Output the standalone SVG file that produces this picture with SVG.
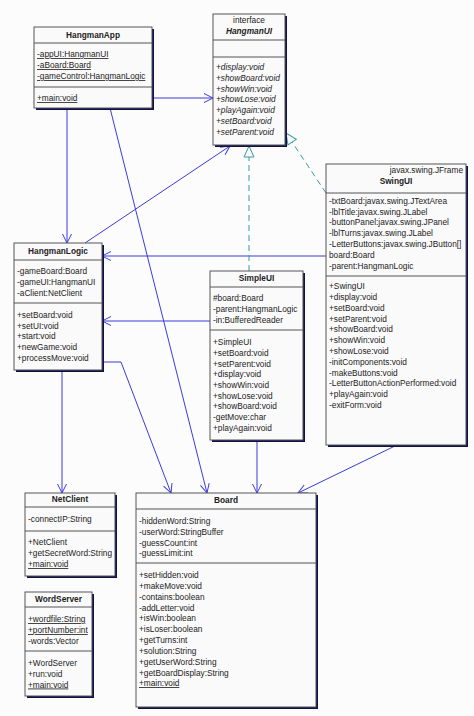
<svg xmlns="http://www.w3.org/2000/svg" width="474" height="716" viewBox="0 0 474 716">
<style>
text{font-family:"Liberation Sans",Arial,sans-serif;font-size:8.3px;fill:#222}
.t{font-weight:bold;text-anchor:middle}
.u{text-decoration:underline}
.i{font-style:italic}
.sh{fill:#101048}
.bx{fill:#fafafa;stroke:#555;stroke-width:1}
.dv{stroke:#555;stroke-width:1}
.ln{fill:none;stroke:#3b3bdc;stroke-width:1}
.ds{fill:none;stroke:#3a9a9a;stroke-width:1;stroke-dasharray:6,4}
</style>
<defs>
<marker id="open" markerUnits="userSpaceOnUse" markerWidth="14" markerHeight="14" viewBox="-12 -7 14 14" refX="0" refY="0" orient="auto">
<path d="M-9,-4.5 L0,0 L-9,4.5" fill="none" stroke="#3b3bdc" stroke-width="1"/>
</marker>
<marker id="tri" markerUnits="userSpaceOnUse" markerWidth="16" markerHeight="16" viewBox="-13 -8 16 16" refX="0" refY="0" orient="auto">
<path d="M-11,-5 L0,0 L-11,5 Z" fill="#fafafa" stroke="#3a9a9a" stroke-width="1"/>
</marker>
</defs>
<rect width="474" height="716" fill="#fcfcfc"/>

<g id="connectors">
<line class="ln" x1="152" y1="98" x2="213" y2="98" marker-end="url(#open)"/>
<line class="ln" x1="67" y1="108" x2="67" y2="243" marker-end="url(#open)"/>
<line class="ln" x1="110" y1="108" x2="207" y2="493" marker-end="url(#open)"/>
<line class="ln" x1="85" y1="243" x2="230" y2="146" marker-end="url(#open)"/>
<line class="ln" x1="326" y1="256" x2="102" y2="256" marker-end="url(#open)"/>
<line class="ln" x1="210" y1="321" x2="102" y2="321" marker-end="url(#open)"/>
<line class="ln" x1="62" y1="370" x2="62" y2="493" marker-end="url(#open)"/>
<polyline class="ln" points="102,362 121,362 171,493" marker-end="url(#open)"/>
<line class="ln" x1="257" y1="440" x2="257" y2="493" marker-end="url(#open)"/>
<line class="ln" x1="397" y1="445" x2="298" y2="493" marker-end="url(#open)"/>
<line class="ds" x1="249" y1="271" x2="249" y2="146" marker-end="url(#tri)"/>
<line class="ds" x1="326" y1="193" x2="286" y2="133" marker-end="url(#tri)"/>
</g>

<g id="HangmanApp">
<rect class="sh" x="36" y="29" width="118" height="81"/>
<rect class="bx" x="34" y="27" width="118" height="81"/>
<text class="t" x="93" y="38">HangmanApp</text>
<line class="dv" x1="34" y1="43" x2="152" y2="43"/>
<text class="u" x="37" y="57">-appUI:HangmanUI</text>
<text class="u" x="37" y="68">-aBoard:Board</text>
<text class="u" x="37" y="79">-gameControl:HangmanLogic</text>
<line class="dv" x1="34" y1="87" x2="152" y2="87"/>
<text class="u" x="37" y="101">+main:void</text>
</g>

<g id="HangmanUI">
<rect class="sh" x="215" y="16" width="72" height="131"/>
<rect class="bx" x="213" y="14" width="72" height="131"/>
<text x="249" y="23" text-anchor="middle">interface</text>
<text class="t i" x="249" y="34">HangmanUI</text>
<line class="dv" x1="213" y1="40" x2="285" y2="40"/>
<line class="dv" x1="213" y1="57" x2="285" y2="57"/>
<text class="i" x="216" y="70">+display:void</text>
<text class="i" x="216" y="81">+showBoard:void</text>
<text class="i" x="216" y="91.5">+showWin:void</text>
<text class="i" x="216" y="102">+showLose:void</text>
<text class="i" x="216" y="113">+playAgain:void</text>
<text class="i" x="216" y="124">+setBoard:void</text>
<text class="i" x="216" y="135">+setParent:void</text>
</g>

<g id="SwingUI">
<rect class="sh" x="328" y="166" width="140" height="281"/>
<rect class="bx" x="326" y="164" width="140" height="281"/>
<text x="463" y="173" text-anchor="end">javax.swing.JFrame</text>
<text class="t" x="396" y="184">SwingUI</text>
<line class="dv" x1="326" y1="193" x2="466" y2="193"/>
<text x="329" y="204">-txtBoard:javax.swing.JTextArea</text>
<text x="329" y="214.5">-lblTitle:javax.swing.JLabel</text>
<text x="329" y="225">-buttonPanel:javax.swing.JPanel</text>
<text x="329" y="236">-lblTurns:javax.swing.JLabel</text>
<text x="329" y="247">-LetterButtons:javax.swing.JButton[]</text>
<text x="329" y="258">board:Board</text>
<text x="329" y="269">-parent:HangmanLogic</text>
<line class="dv" x1="326" y1="276" x2="466" y2="276"/>
<text x="329" y="289">+SwingUI</text>
<text x="329" y="300">+display:void</text>
<text x="329" y="311">+setBoard:void</text>
<text x="329" y="321.5">+setParent:void</text>
<text x="329" y="332">+showBoard:void</text>
<text x="329" y="343">+showWin:void</text>
<text x="329" y="354">+showLose:void</text>
<text x="329" y="364.5">-initComponents:void</text>
<text x="329" y="375.5">-makeButtons:void</text>
<text x="329" y="386">-LetterButtonActionPerformed:void</text>
<text x="329" y="397">+playAgain:void</text>
<text x="329" y="408">-exitForm:void</text>
</g>

<g id="HangmanLogic">
<rect class="sh" x="16" y="245" width="88" height="127"/>
<rect class="bx" x="14" y="243" width="88" height="127"/>
<text class="t" x="58" y="254">HangmanLogic</text>
<line class="dv" x1="14" y1="260" x2="102" y2="260"/>
<text x="17" y="274">-gameBoard:Board</text>
<text x="17" y="285">-gameUI:HangmanUI</text>
<text x="17" y="295.5">-aClient:NetClient</text>
<line class="dv" x1="14" y1="303" x2="102" y2="303"/>
<text x="17" y="318">+setBoard:void</text>
<text x="17" y="328.5">+setUI:void</text>
<text x="17" y="339">+start:void</text>
<text x="17" y="350">+newGame:void</text>
<text x="17" y="361">+processMove:void</text>
</g>

<g id="SimpleUI">
<rect class="sh" x="212" y="273" width="93" height="169"/>
<rect class="bx" x="210" y="271" width="93" height="169"/>
<text class="t" x="256.5" y="281">SimpleUI</text>
<line class="dv" x1="210" y1="287" x2="303" y2="287"/>
<text x="213" y="301">#board:Board</text>
<text x="213" y="312">-parent:HangmanLogic</text>
<text x="213" y="322.5">-in:BufferedReader</text>
<line class="dv" x1="210" y1="330" x2="303" y2="330"/>
<text x="213" y="345">+SimpleUI</text>
<text x="213" y="355.5">+setBoard:void</text>
<text x="213" y="366.5">+setParent:void</text>
<text x="213" y="377">+display:void</text>
<text x="213" y="388">+showWin:void</text>
<text x="213" y="398.5">+showLose:void</text>
<text x="213" y="409">+showBoard:void</text>
<text x="213" y="420">-getMove:char</text>
<text x="213" y="431">+playAgain:void</text>
</g>

<g id="NetClient">
<rect class="sh" x="27" y="495" width="90" height="83"/>
<rect class="bx" x="25" y="493" width="90" height="83"/>
<text class="t" x="70" y="502">NetClient</text>
<line class="dv" x1="25" y1="507" x2="115" y2="507"/>
<text x="28" y="522">-connectIP:String</text>
<line class="dv" x1="25" y1="531" x2="115" y2="531"/>
<text x="28" y="545">+NetClient</text>
<text x="28" y="556">+getSecretWord:String</text>
<text class="u" x="28" y="567">+main:void</text>
</g>

<g id="Board">
<rect class="sh" x="138" y="495" width="180" height="214"/>
<rect class="bx" x="136" y="493" width="180" height="214"/>
<text class="t" x="226" y="503">Board</text>
<line class="dv" x1="136" y1="509" x2="316" y2="509"/>
<text x="139" y="524">-hiddenWord:String</text>
<text x="139" y="535">-userWord:StringBuffer</text>
<text x="139" y="545.5">-guessCount:int</text>
<text x="139" y="556">-guessLimit:int</text>
<line class="dv" x1="136" y1="563" x2="316" y2="563"/>
<text x="139" y="578">+setHidden:void</text>
<text x="139" y="589">+makeMove:void</text>
<text x="139" y="600">-contains:boolean</text>
<text x="139" y="610.5">-addLetter:void</text>
<text x="139" y="621">+isWin:boolean</text>
<text x="139" y="632">+isLoser:boolean</text>
<text x="139" y="643">+getTurns:int</text>
<text x="139" y="654">+solution:String</text>
<text x="139" y="665">+getUserWord:String</text>
<text x="139" y="675.5">+getBoardDisplay:String</text>
<text class="u" x="139" y="686">+main:void</text>
</g>

<g id="WordServer">
<rect class="sh" x="27" y="594" width="67" height="104"/>
<rect class="bx" x="25" y="592" width="67" height="104"/>
<text class="t" x="58.5" y="602">WordServer</text>
<line class="dv" x1="25" y1="607" x2="92" y2="607"/>
<text class="u" x="28" y="622">+wordfile:String</text>
<text class="u" x="28" y="633">+portNumber:int</text>
<text x="28" y="643.5">-words:Vector</text>
<line class="dv" x1="25" y1="651" x2="92" y2="651"/>
<text x="28" y="666">+WordServer</text>
<text x="28" y="677">+run:void</text>
<text class="u" x="28" y="687.5">+main:void</text>
</g>
</svg>
